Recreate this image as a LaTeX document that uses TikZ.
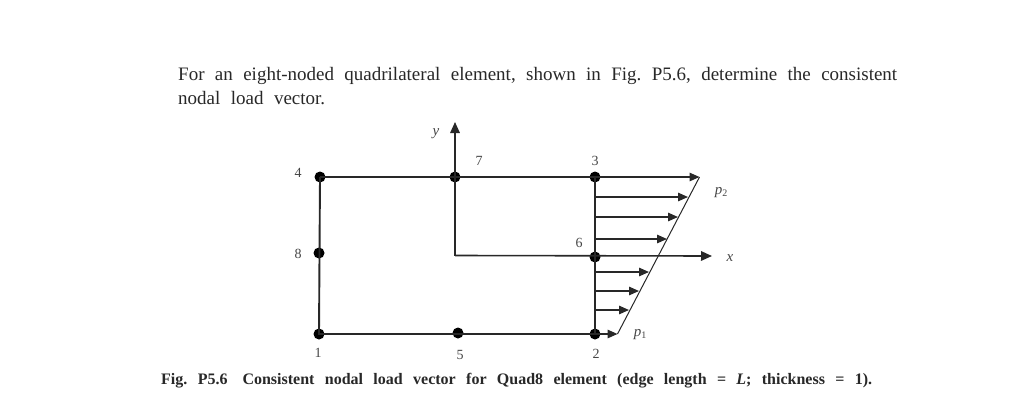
\documentclass[tikz,border=0pt]{standalone}
\usepackage{fontspec}
\setmainfont{Liberation Serif}
\usetikzlibrary{arrows.meta}
\definecolor{ink}{RGB}{40,40,40}
\definecolor{lab}{RGB}{70,70,70}
\tikzset{
  edgeline/.style={draw=ink,line width=1.9pt},
  thinline/.style={draw=ink,line width=1.5pt},
  axisarrow/.style={draw=ink,line width=1.6pt,-{Triangle[length=11pt,width=9.5pt]}},
  loadarrow/.style={draw=ink,line width=1.5pt,-{Triangle[length=10pt,width=8.5pt]}},
  nodept/.style={circle,fill=black,inner sep=0pt,minimum size=11pt},
  lbl/.style={text=lab,font=\fontsize{14}{14}\selectfont,inner sep=0pt},
  bodytext/.style={text=ink,font=\frenchspacing\fontsize{19}{19}\selectfont,inner sep=0pt,anchor=base west},
  captext/.style={text=ink,font=\frenchspacing\bfseries\fontsize{16}{16}\selectfont,inner sep=0pt,anchor=base west}
}
\begin{document}
\begin{tikzpicture}[x=1pt,y=-1pt]
\useasboundingbox[fill=white] (0,0) rectangle (1023,405);
\node[bodytext] (line1) at (178,80) {\makebox[719pt][s]{For an eight-noded quadrilateral element, shown in Fig. P5.6, determine the consistent}};
\node[bodytext] (line2) at (178,104) {\makebox[147pt][s]{nodal load vector.}};
\node[captext] (cap) at (161,384) {\makebox[711pt][s]{Fig. P5.6\hspace{15pt}Consistent nodal load vector for Quad8 element (edge length = \textit{L}; thickness = 1).}};

\node[nodept] (n4) at (320,177) {};
\node[nodept] (n7) at (455,177) {};
\node[nodept] (n3) at (595,177) {};
\node[nodept] (n8) at (319,253) {};
\node[nodept] (n6) at (595,257) {};
\node[nodept] (n1) at (319,334) {};
\node[nodept] (n5) at (458,333) {};
\node[nodept] (n2) at (595,334) {};
\coordinate (o) at (455,255.5);
\coordinate (xtip) at (712,256);
\coordinate (ytip) at (455,122);
\coordinate (p2tip) at (699.5,177);
\coordinate (p1tip) at (617.5,334);

\draw[edgeline] (n4.center) -- (n1.center) -- (n2.center) -- (n3.center);
\draw[edgeline] (n4.center) -- (n3.center);
\draw[thinline] (n7.center) -- (o);
\draw[axisarrow] (n7.center) -- (ytip);
\draw[axisarrow] (o) -- (xtip);
\draw[line width=1pt,draw=ink] (p1tip) -- (p2tip);
\draw[loadarrow] (n3.center) -- (p2tip);
\draw[loadarrow] (n2.center) -- (p1tip);

\foreach \nm/\yy/\xx in {a/197/688,b/217/678,c/239/667,d/272/649,e/291/639,f/310/629}{
  \coordinate (s\nm) at (595,\yy);
  \coordinate (t\nm) at (\xx,\yy);
  \draw[loadarrow] (s\nm) -- (t\nm);
}

\node[lbl] (l1) at (318,353) {1};
\node[lbl] (l2) at (596,354) {2};
\node[lbl] (l3) at (595,161) {3};
\node[lbl] (l4) at (298,173) {4};
\node[lbl] (l5) at (460,355) {5};
\node[lbl] (l6) at (579,243) {6};
\node[lbl] (l7) at (479,161) {7};
\node[lbl] (l8) at (298,254) {8};
\node[lbl,font=\itshape\fontsize{15}{15}\selectfont] (lx) at (730,258) {x};
\node[lbl,font=\itshape\fontsize{15}{15}\selectfont] (ly) at (436,134) {y};
\node[lbl,font=\fontsize{15}{15}\selectfont] (lp1) at (640,335) {\textit{p}\raisebox{-1.5pt}{\fontsize{10}{10}\selectfont 1}};
\node[lbl,font=\fontsize{15}{15}\selectfont] (lp2) at (721,193) {\textit{p}\raisebox{-1.5pt}{\fontsize{10}{10}\selectfont 2}};
\end{tikzpicture}
\end{document}
